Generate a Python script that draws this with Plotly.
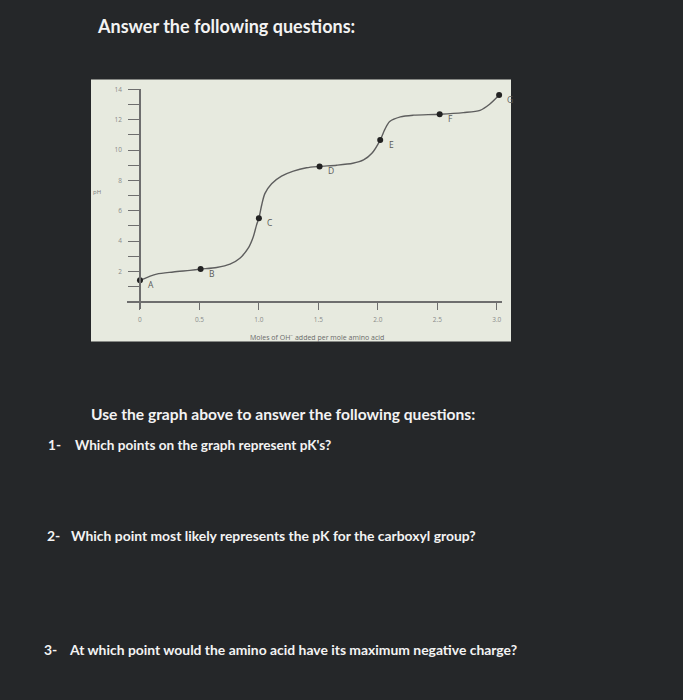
import plotly.graph_objects as go

W, H = 683, 700

# Titration curve (moles OH- per mole amino acid, pH)
curve_x = [0.0, 0.14, 0.28, 0.42, 0.51, 0.645, 0.757, 0.84, 0.91, 0.953, 0.98, 1.0,
           1.023, 1.05, 1.107, 1.19, 1.29, 1.40, 1.51, 1.654, 1.79, 1.88, 1.95, 2.02,
           2.06, 2.10, 2.19, 2.30, 2.52, 2.72, 2.86, 2.94, 3.02]
curve_ph = [1.41, 1.82, 1.96, 2.07, 2.15, 2.26, 2.48, 2.87, 3.53, 4.29, 5.05, 5.51,
            6.36, 7.13, 7.78, 8.28, 8.61, 8.83, 8.92, 9.0, 9.13, 9.35, 9.79, 10.66,
            11.38, 11.88, 12.19, 12.30, 12.36, 12.47, 12.62, 13.02, 13.63]

# Labelled points
point_labels = ["A", "B", "C", "D", "E", "F", "G"]
point_x = [0.0, 0.51, 1.0, 1.51, 2.02, 2.52, 3.02]
point_ph = [1.41, 2.15, 5.51, 8.92, 10.66, 12.36, 13.63]

# Tick labels
x_tickvals = [0, 0.5, 1.0, 1.5, 2.0, 2.5, 3.0]
x_ticktext = ["0", "0.5", "1.0", "1.5", "2.0", "2.5", "3.0"]
y_tickvals = [2, 4, 6, 8, 10, 12, 14]
y_ticktext = ["2", "4", "6", "8", "10", "12", "14"]

title_text = "Answer the following questions:"
subtitle_text = "Use the graph above to answer the following questions:"
questions = [
    ("1-", "Which points on the graph represent pK's?"),
    ("2-", "Which point most likely represents the pK for the carboxyl group?"),
    ("3-", "At which point would the amino acid have its maximum negative charge?"),
]

# ---------------- layout geometry ----------------
def px(x):
    return x / W

def py(y):
    return 1 - y / H

x_range = [-0.11, 3.04]
y_range = [-0.5, 14.0]
x_dom = [px(126.9), px(501.5)]
y_dom = [py(306.5), py(85.0)]

y_axis_pos = x_dom[0] + (0 - x_range[0]) / (x_range[1] - x_range[0]) * (x_dom[1] - x_dom[0])
x_axis_pos = y_dom[0] + (0 - y_range[0]) / (y_range[1] - y_range[0]) * (y_dom[1] - y_dom[0])

BG = "#252729"
PANEL = "#e7eadf"
AXIS = "#6e6e6e"
TICKFONT = dict(family="Open Sans, sans-serif", size=6.5, color="#8a8a8a")
TXT = "#f3f3f3"
FONT = "Lato, sans-serif"

fig = go.Figure()

fig.add_trace(go.Scatter(
    x=curve_x, y=curve_ph, mode="lines",
    line=dict(color="#5e5e5e", width=1.4, shape="spline", smoothing=0.8),
    hoverinfo="skip", showlegend=False,
))

fig.add_trace(go.Scatter(
    x=point_x, y=point_ph, mode="markers",
    marker=dict(color="#222222", size=6, line=dict(width=0)),
    cliponaxis=False, showlegend=False,
))

for lab, xv, yv in zip(point_labels, point_x, point_ph):
    fig.add_annotation(x=xv, y=yv, text=lab, showarrow=False, xshift=11, yshift=-4,
                       font=dict(family="Open Sans, sans-serif", size=8.5, color="#5a5a5a"))

# panel background
fig.add_shape(type="rect", xref="paper", yref="paper",
              x0=px(91), x1=px(511), y0=py(339), y1=py(75),
              fillcolor=PANEL, line=dict(width=0), layer="below")

# axis labels
fig.add_annotation(xref="paper", yref="paper", x=px(97), y=py(188), text="pH",
                   xanchor="center", yanchor="middle", showarrow=False,
                   font=dict(family="Open Sans, sans-serif", size=6, color="#7a7a7a"))
fig.add_annotation(xref="paper", yref="paper", x=px(317), y=py(334),
                   xanchor="center", yanchor="middle",
                   text="Moles of OH<sup>−</sup> added per mole amino acid",
                   showarrow=False, font=dict(family="Open Sans, sans-serif", size=7, color="#6a6a6a"))

# texts
fig.add_annotation(xref="paper", yref="paper", x=px(95), y=py(21), xanchor="left", yanchor="middle",
                   text="<b>" + title_text + "</b>", showarrow=False,
                   font=dict(family=FONT, size=18, color=TXT))
fig.add_annotation(xref="paper", yref="paper", x=px(89), y=py(412), xanchor="left", yanchor="middle",
                   text="<b>" + subtitle_text + "</b>", showarrow=False,
                   font=dict(family=FONT, size=15.6, color=TXT))

q_num_x = [46, 45, 42]
q_txt_x = [73, 69, 67]
q_y = [443, 534, 649]
q_size = [13.6, 13.9, 13.9]
for (num, q), nx, tx, yy, sz in zip(questions, q_num_x, q_txt_x, q_y, q_size):
    fig.add_annotation(xref="paper", yref="paper", x=px(nx), y=py(yy), xanchor="left", yanchor="middle",
                       text="<b>" + num + "</b>", showarrow=False,
                       font=dict(family=FONT, size=sz, color=TXT))
    fig.add_annotation(xref="paper", yref="paper", x=px(tx), y=py(yy), xanchor="left", yanchor="middle",
                       text="<b>" + q + "</b>", showarrow=False,
                       font=dict(family=FONT, size=sz, color=TXT))

fig.update_layout(
    width=W, height=H,
    margin=dict(l=0, r=0, t=0, b=0),
    paper_bgcolor=BG, plot_bgcolor="rgba(0,0,0,0)",
    xaxis=dict(domain=x_dom, range=x_range, anchor="free", position=x_axis_pos,
               showgrid=False, zeroline=False, showline=True, linecolor=AXIS, linewidth=1.5,
               ticks="outside", ticklen=8, tickwidth=1.2, tickcolor=AXIS,
               tickvals=x_tickvals, ticktext=x_ticktext, tickfont=TICKFONT,
               ticklabelstandoff=4),
    yaxis=dict(domain=y_dom, range=y_range, anchor="free", position=y_axis_pos,
               showgrid=False, zeroline=False, showline=True, linecolor=AXIS, linewidth=1.5,
               ticks="outside", ticklen=11, tickwidth=1.2, tickcolor=AXIS,
               tickvals=y_tickvals, ticktext=y_ticktext, tickfont=TICKFONT,
               ticklabelstandoff=5,
               minor=dict(dtick=1, tick0=0, ticks="outside", ticklen=11,
                          tickwidth=1.2, tickcolor=AXIS, showgrid=False)),
)

fig.write_html("out.html", config={"displayModeBar": False},
               post_script="document.body.style.margin='0';document.body.style.background='%s';" % BG)
